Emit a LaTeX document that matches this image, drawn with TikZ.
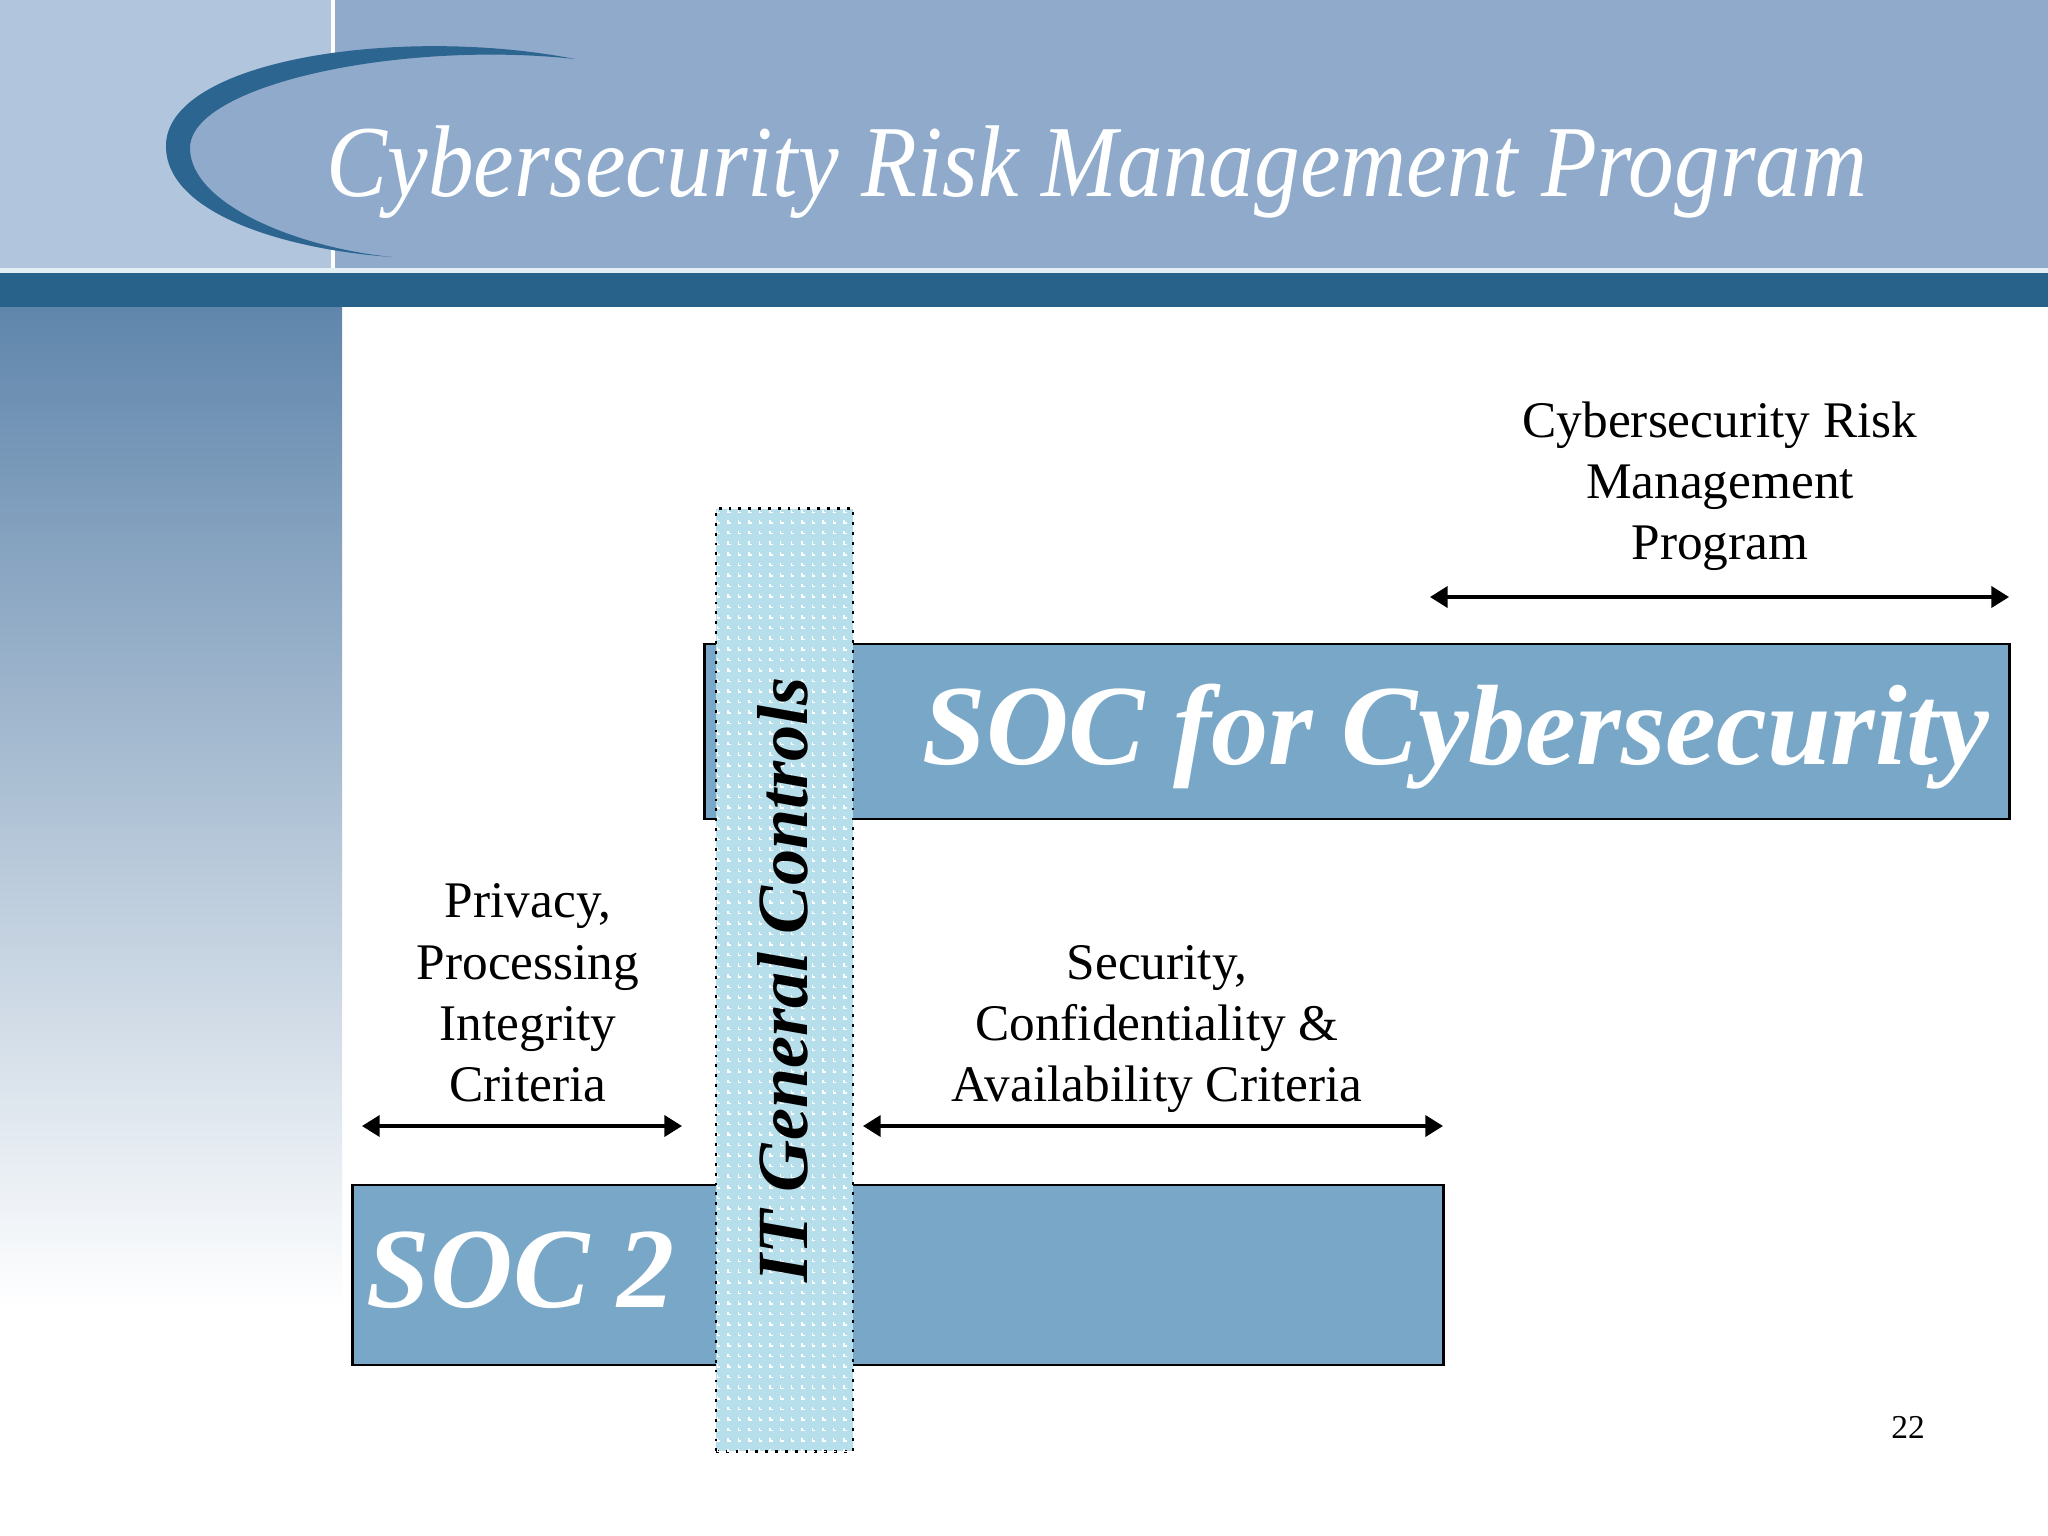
\documentclass[tikz,border=0pt]{standalone}
\usepackage{fontspec}
\setmainfont{Liberation Serif}
\usetikzlibrary{arrows.meta,patterns}

\definecolor{titleblue}{HTML}{8FAACB}
\definecolor{titlelight}{HTML}{B1C5DD}
\definecolor{swoosh}{HTML}{2C6590}
\definecolor{bandblue}{HTML}{28618A}
\definecolor{bandlight}{HTML}{E4EEF5}
\definecolor{striptop}{HTML}{6086AC}
\definecolor{stripmid}{HTML}{A6BED7}
\definecolor{socblue}{HTML}{78A7C8}
\definecolor{barblue}{HTML}{B6DFEB}

\begin{document}
\begin{tikzpicture}[x=0.01cm,y=-0.01cm,
    socbox/.style={draw=black,fill=socblue,line width=0.7pt,inner sep=0pt},
    soctext/.style={text=white,font=\bfseries\itshape\fontsize{32.5}{39}\selectfont},
    critlabel/.style={align=center,font=\fontsize{14.6}{17.4}\selectfont},
    spanarrow/.style={{Triangle[length=5pt,width=6pt]}-{Triangle[length=5pt,width=6pt]},line width=0.9pt}]
        \useasboundingbox (0,0) rectangle (2048,1536);
        \fill[white] (0,0) rectangle (2048,1536);
        \fill[titleblue] (0,0) rectangle (2048,268);
        \fill[titlelight] (0,0) rectangle (333,268);
        \draw[white,line width=1.1pt] (333,0) -- (333,268);
        \fill[titleblue] (575,59) .. controls (400,25) and (166,60) .. (166,146)
            .. controls (166,215) and (290,250) .. (392,257) -- (600,257) -- (600,59) -- cycle;
        \fill[swoosh] (575,59) .. controls (400,25) and (166,60) .. (166,146)
            .. controls (166,215) and (290,250) .. (392,257)
            .. controls (300,248) and (190,205) .. (190,148)
            .. controls (190,85) and (400,40) .. (575,59) -- cycle;
        \fill[bandlight] (0,268) rectangle (2048,273);
        \fill[bandblue] (0,273) rectangle (2048,307);
        \shade[top color=striptop,middle color=stripmid,bottom color=white] (0,307) rectangle (342,1310);

        \node[anchor=base,text=white,font=\itshape\fontsize{29}{35}\selectfont] (title) at (1097,196) {\scalebox{0.895}[1]{Cybersecurity Risk Management Program}};

        \node[socbox,minimum width=13.04cm,minimum height=1.75cm] (cyb) at (1357,731.5) {};
        \node[socbox,minimum width=10.9cm,minimum height=1.8cm] (soc2) at (898,1275) {};
        \node[draw=black,dotted,line width=0.8pt,fill=barblue,postaction={pattern=grid,pattern color=white},
            minimum width=1.37cm,minimum height=9.42cm,inner sep=0pt] (itgc) at (784.5,980) {};

        \node[soctext,anchor=base] (cybtxt) at (1456,764) {SOC for Cybersecurity};
        \node[soctext,anchor=base] (soc2txt) at (521,1307) {SOC 2};
        \node[rotate=90,anchor=base,font=\bfseries\itshape\fontsize{20.5}{24}\selectfont] (itgctxt) at (807,980) {IT General Controls};

        \node[critlabel] (cyblbl) at (1720,486) {Cybersecurity Risk\\Management\\Program};
        \node[critlabel] (privlbl) at (528,993) {Privacy,\\Processing\\Integrity\\Criteria};
        \node[critlabel] (seclbl) at (1157,1029) {Security,\\Confidentiality \&\\Availability Criteria};

        \coordinate (t1) at (1430,597);
        \coordinate (t2) at (2009,597);
        \coordinate (l1) at (362,1126);
        \coordinate (l2) at (682,1126);
        \coordinate (m1) at (863,1126);
        \coordinate (m2) at (1443,1126);
        \draw[spanarrow] (t1) -- (t2);
        \draw[spanarrow] (l1) -- (l2);
        \draw[spanarrow] (m1) -- (m2);

        \node[font=\fontsize{9.5}{11}\selectfont] (pg) at (1908,1427) {22};
    \end{tikzpicture}
\end{document}
